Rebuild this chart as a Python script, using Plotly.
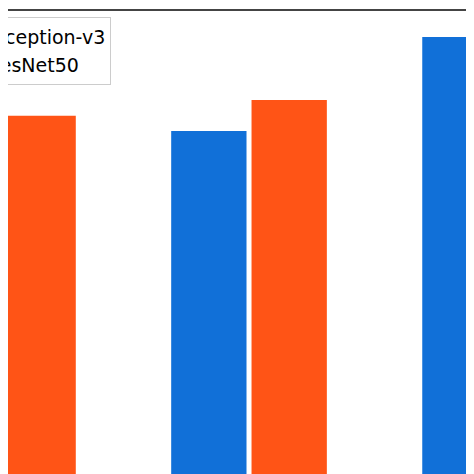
import plotly.graph_objects as go

categories = [0, 1, 2]
inception = [None, 0.739, 0.942]
resnet = [0.772, 0.806, None]

fig = go.Figure()
fig.add_trace(go.Bar(x=categories, y=inception, name="Inception-v3", marker_color="#1170D8",
                     width=0.30, offset=-0.31, marker_line_width=0))
fig.add_trace(go.Bar(x=categories, y=resnet, name="ResNet50", marker_color="#FF5416",
                     width=0.30, offset=0.01, marker_line_width=0))
fig.update_layout(
    width=474, height=474, margin=dict(l=0, r=0, t=2, b=8, autoexpand=False),
    plot_bgcolor="white", paper_bgcolor="white",
    font=dict(family="DejaVu Sans", size=19, color="black"),
    legend=dict(x=-0.13, y=0.985, xanchor="left", yanchor="top",
                bgcolor="white", bordercolor="#cccccc", borderwidth=1,
                itemwidth=30, tracegroupgap=0),
    xaxis=dict(range=[0.040, 1.928], showgrid=False, showline=True, linecolor="black",
               linewidth=1.5, ticks="outside", ticklen=8, tickcolor="black",
               tickvals=[1], showticklabels=False, mirror=False),
    yaxis=dict(range=[0, 1], showgrid=False, showticklabels=False, zeroline=False,
               showline=False),
    shapes=[dict(type="line", xref="paper", yref="paper", x0=0, x1=1, y0=1, y1=1,
                 line=dict(color="#444444", width=2))],
)
fig.write_html("out.html")
